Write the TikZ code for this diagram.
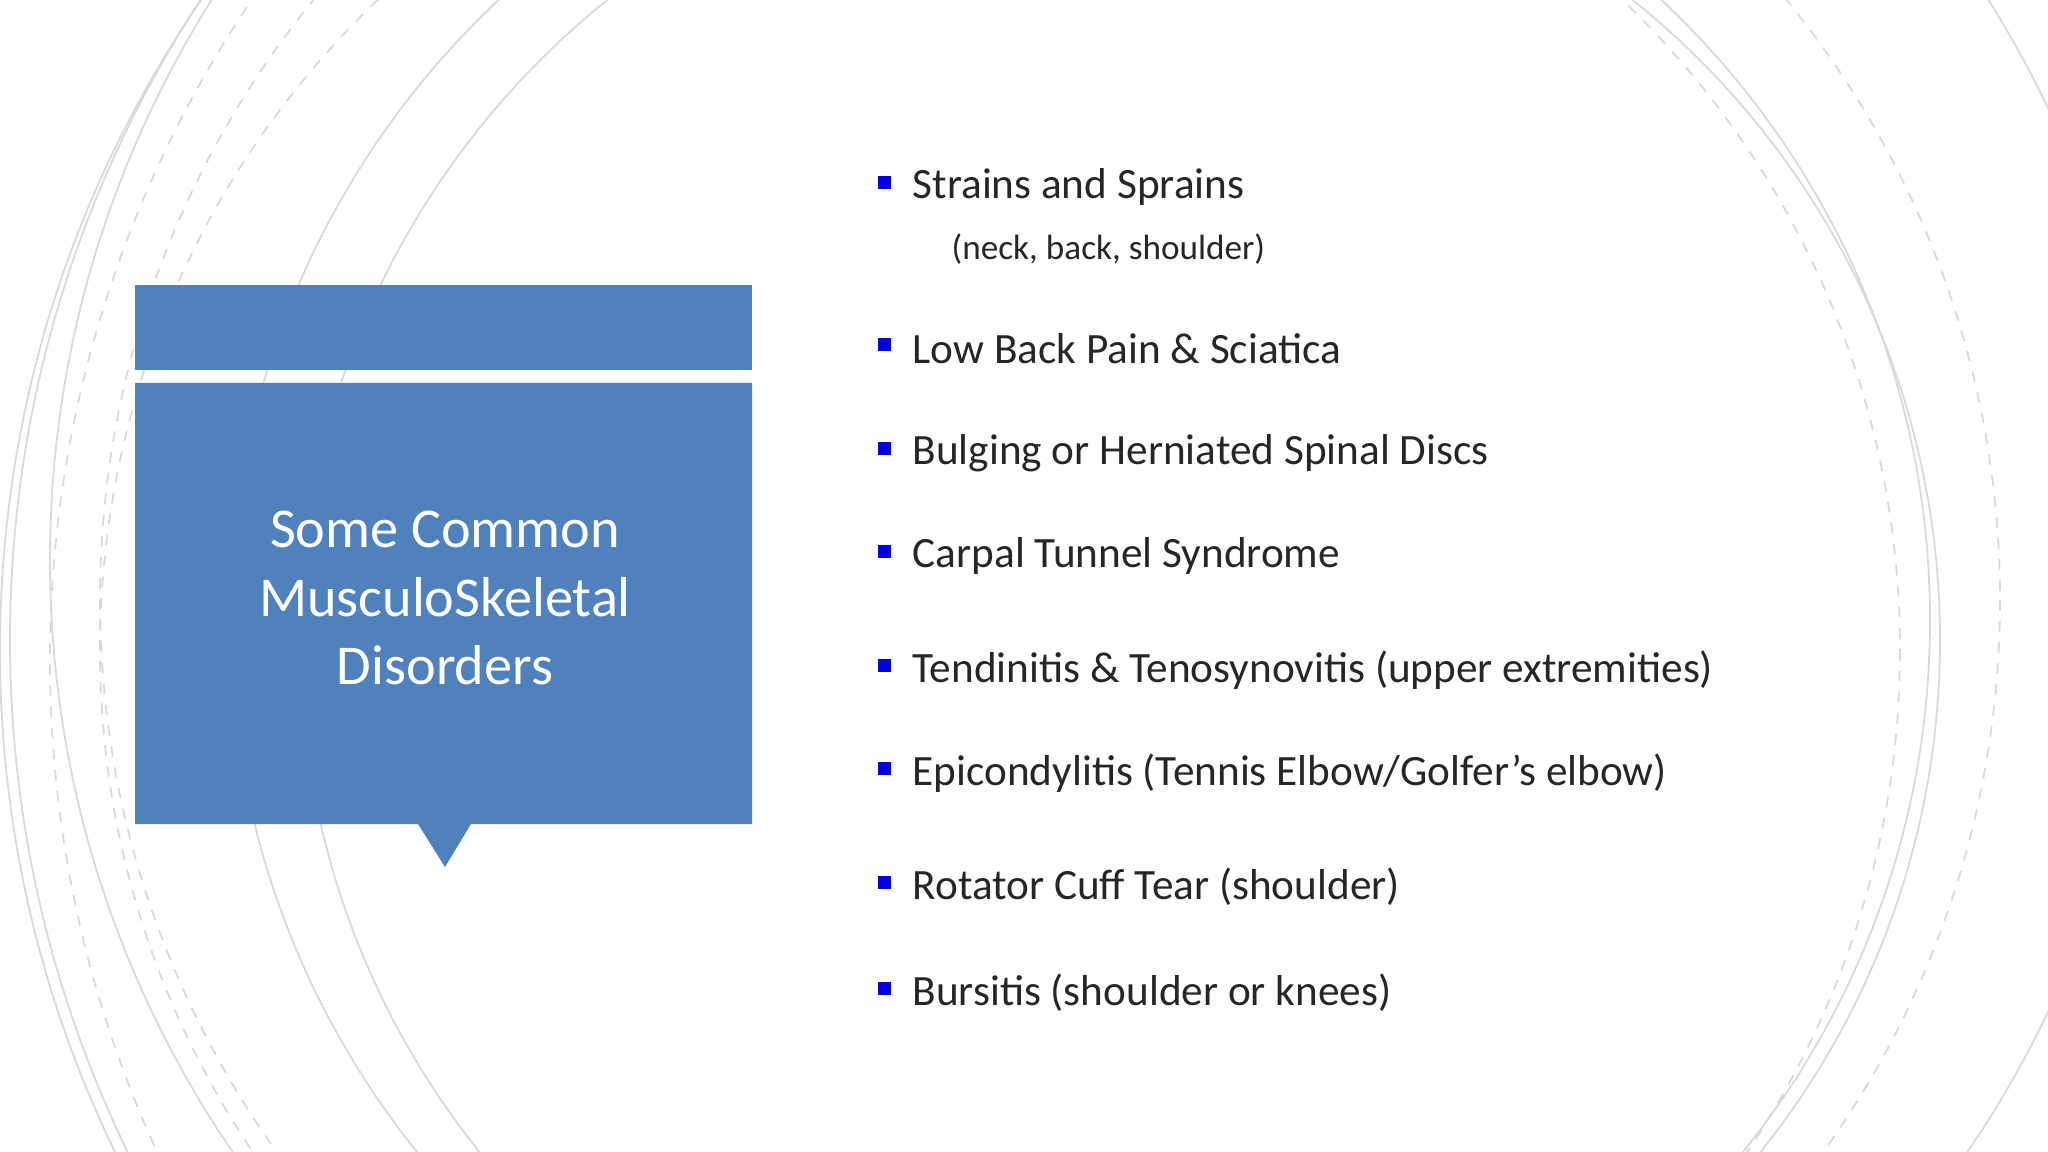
\documentclass[tikz,border=0pt]{standalone}
\usepackage{fontspec}
\setmainfont{Carlito}
\definecolor{boxblue}{RGB}{79,129,189}
\begin{document}
\begin{tikzpicture}[x=0.01cm,y=-0.01cm,
  arc/.style={draw=gray!30,line width=0.5pt},
  darc/.style={draw=gray!30,line width=0.5pt,dashed},
  item/.style={anchor=west,font=\fontsize{12.3}{15}\selectfont,text=black!85,inner sep=0},
  bul/.style={fill=blue!90!black}]
\useasboundingbox (0,0) rectangle (2048,1152);
\fill[white] (0,0) rectangle (2048,1152);
\begin{scope}
\clip (0,0) rectangle (2048,1152);
\draw[arc] (1150,650) circle (1150);
\draw[arc] (1180,640) circle (1170);
\draw[darc] (1230,660) circle (1180);
\draw[arc] (1100,560) circle (1050);
\draw[darc] (1050,600) circle (950);
\draw[arc] (1080,620) circle (850);
\draw[arc] (1120,640) circle (820);
\draw[darc] (1000,650) circle (900);
\end{scope}
\fill[boxblue] (135,285) rectangle (752,370);
\fill[boxblue] (135,383) -- (752,383) -- (752,824) -- (471,824) -- (445,867) -- (418,824) -- (135,824) -- cycle;
\node[align=center,text=white,font=\fontsize{16}{19.5}\selectfont,inner sep=0] (title) at (445,598) {Some Common\\MusculoSkeletal\\Disorders};
\foreach \n/\y/\t in {a/187/{Strains and Sprains},b/349/{Low Back Pain \& Sciatica},c/453/{Bulging or Herniated Spinal Discs},d/556/{Carpal Tunnel Syndrome},e/670/{Tendinitis \& Tenosynovitis (upper extremities)},f/773/{Epicondylitis (Tennis Elbow/Golfer’s elbow)},g/887/{Rotator Cuff Tear (shoulder)},h/993/{Bursitis (shoulder or knees)}}{
  \fill[bul] (878,\y-11) rectangle +(13,13);
  \node[item] (t\n) at (912,\y) {\t};
}
\node[item,font=\fontsize{10}{12}\selectfont] (sub) at (951,249) {(neck, back, shoulder)};
\end{tikzpicture}
\end{document}
